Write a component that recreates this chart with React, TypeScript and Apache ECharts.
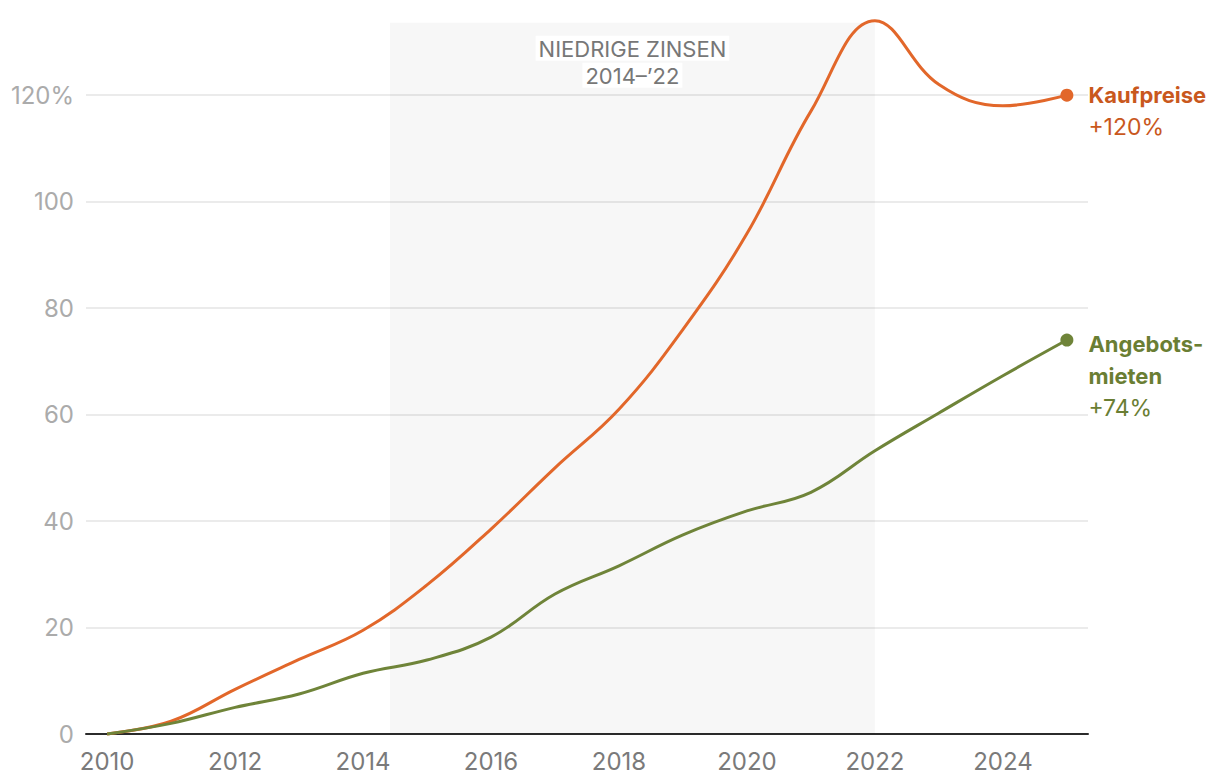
import React, { useEffect, useRef } from "react";
import * as echarts from "echarts";

// Index values, change since 2010 in percent
const years = [2010, 2011, 2012, 2013, 2014, 2015, 2016, 2017, 2018, 2019, 2020, 2021, 2022, 2023, 2024, 2025];
const kaufpreise = [0, 2.4, 8.4, 14, 19.5, 28, 38.5, 50, 61, 76, 94, 117, 134, 122, 118, 120];
const angebotsmieten = [0, 2, 5, 7.5, 11.4, 13.9, 18.2, 26.3, 31.6, 37.4, 41.9, 45.4, 53.2, 60.3, 67.3, 74];

const xTicks = [2010, 2012, 2014, 2016, 2018, 2020, 2022, 2024];
const lowRatePeriod = [2014.42, 2022];

const FONT = "Inter, Roboto, sans-serif";
const ORANGE = "#e2672a";
const ORANGE_TEXT = "#c9581d";
const GREEN = "#6f8439";
const GREEN_TEXT = "#6a7e33";

function buildData(values: number[], label: any) {
  return values.map((v, i) => {
    const last = i === values.length - 1;
    return last
      ? { value: [years[i], v], symbol: "circle", symbolSize: 13, label }
      : { value: [years[i], v], symbol: "none" };
  });
}

export default function App() {
  const ref = useRef<HTMLDivElement>(null);

  useEffect(() => {
    if (!ref.current) return;
    const chart = echarts.init(ref.current, undefined, { renderer: "svg" });
    const kLast = kaufpreise[kaufpreise.length - 1];
    const mLast = angebotsmieten[angebotsmieten.length - 1];

    chart.setOption({
      animation: false,
      grid: { left: 86, right: 132, top: 10, bottom: 48, containLabel: false },
      xAxis: {
        type: "value",
        min: 2009.67,
        max: 2025.33,
        axisLine: { show: true, lineStyle: { color: "#2b2b2b", width: 2 } },
        axisTick: { show: false },
        splitLine: { show: false },
        axisLabel: {
          customValues: xTicks,
          color: "#7a7a7a",
          fontFamily: FONT,
          fontSize: 24,
          margin: 15,
          formatter: (v: number) => String(v),
        },
      },
      yAxis: {
        type: "value",
        min: 0,
        max: 136,
        interval: 20,
        axisLine: { show: false },
        axisTick: { show: false },
        splitLine: { showMaxLine: false, lineStyle: { color: "#e4e4e4", width: 1.5 } },
        axisLabel: {
          showMaxLabel: false,
          color: "#ababab",
          fontFamily: FONT,
          fontSize: 24,
          margin: 12,
          formatter: (v: number) => (v > 130 ? "" : v === 120 ? "120%" : String(v)),
        },
      },
      series: [
        {
          name: "Kaufpreise",
          type: "line",
          smooth: 0.4,
          showSymbol: true,
          symbol: "none",
          clip: false,
          z: 3,
          lineStyle: { color: ORANGE, width: 3 },
          itemStyle: { color: ORANGE },
          data: buildData(kaufpreise, {
            show: true,
            position: "right",
            distance: 15,
            offset: [0, 16],
            formatter: `{b|Kaufpreise}\n{r|+${kLast}%}`,
            rich: {
              b: { fontFamily: FONT, fontWeight: "bold", fontSize: 22, color: ORANGE_TEXT, lineHeight: 32 },
              r: { fontFamily: FONT, fontSize: 23, color: ORANGE_TEXT, lineHeight: 32 },
            },
          }),
          markArea: {
            silent: true,
            itemStyle: { color: "rgba(0,0,0,0.032)" },
            label: {
              show: true,
              position: "insideTop",
              distance: 15,
              formatter: "{a|NIEDRIGE ZINSEN}\n{g|}\n{a|2014–’22}",
              rich: {
                a: {
                  fontFamily: FONT,
                  fontSize: 22,
                  color: "#777777",
                  backgroundColor: "#ffffff",
                  lineHeight: 21,
                  padding: [2, 3, 1, 3],
                },
                g: { lineHeight: 6, fontSize: 4 },
              },
            },
            data: [[{ xAxis: lowRatePeriod[0], yAxis: 0 }, { xAxis: lowRatePeriod[1], yAxis: 133.6 }]],
          },
        },
        {
          name: "Angebotsmieten",
          type: "line",
          smooth: 0.4,
          showSymbol: true,
          symbol: "none",
          clip: false,
          z: 4,
          lineStyle: { color: GREEN, width: 3 },
          itemStyle: { color: GREEN },
          data: buildData(angebotsmieten, {
            show: true,
            position: "right",
            distance: 15,
            offset: [0, 36],
            formatter: `{b|Angebots-}\n{b|mieten}\n{r|+${mLast}%}`,
            rich: {
              b: { fontFamily: FONT, fontWeight: "bold", fontSize: 22, color: GREEN_TEXT, lineHeight: 32 },
              r: { fontFamily: FONT, fontSize: 23, color: GREEN_TEXT, lineHeight: 32 },
            },
          }),
        },
      ],
    });

    return () => chart.dispose();
  }, []);

  return (
    <div
      ref={ref}
      style={{ position: "fixed", left: 0, top: 0, width: 1220, height: 782, background: "#ffffff" }}
    />
  );
}
